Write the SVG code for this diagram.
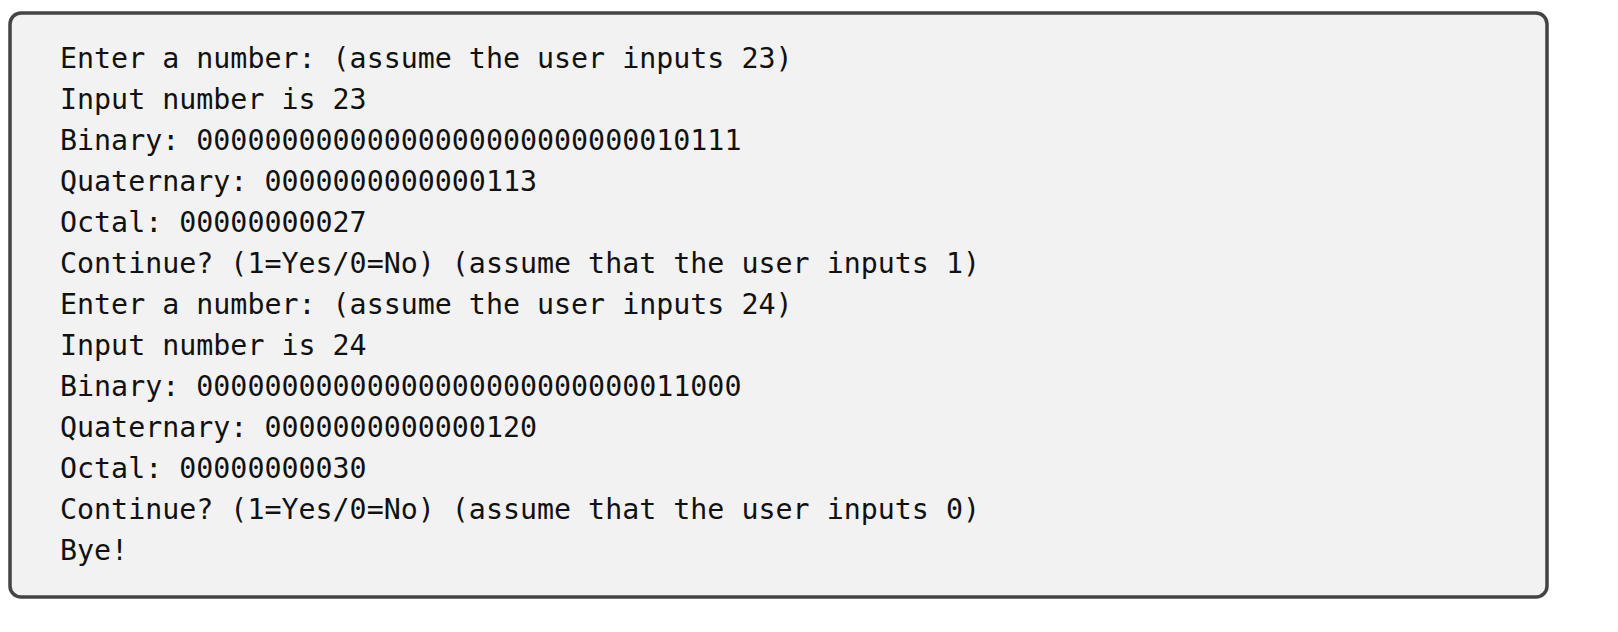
<svg xmlns="http://www.w3.org/2000/svg" width="1618" height="632" viewBox="0 0 1618 632">
<style>
.t{font-family:"DejaVu Sans Mono","Liberation Mono",monospace;font-size:28.3px;fill:#111;}
</style>
<rect width="1618" height="632" fill="#ffffff"/>
<g id="console">
<rect x="10" y="13" width="1537" height="584" rx="11" ry="11" fill="#f2f2f2" stroke="#444" stroke-width="3.5"/>
<text class="t" x="60" y="68">Enter a number: (assume the user inputs 23)</text>
<text class="t" x="60" y="109">Input number is 23</text>
<text class="t" x="60" y="150">Binary: 00000000000000000000000000010111</text>
<text class="t" x="60" y="191">Quaternary: 0000000000000113</text>
<text class="t" x="60" y="232">Octal: 00000000027</text>
<text class="t" x="60" y="273">Continue? (1=Yes/0=No) (assume that the user inputs 1)</text>
<text class="t" x="60" y="314">Enter a number: (assume the user inputs 24)</text>
<text class="t" x="60" y="355">Input number is 24</text>
<text class="t" x="60" y="396">Binary: 00000000000000000000000000011000</text>
<text class="t" x="60" y="437">Quaternary: 0000000000000120</text>
<text class="t" x="60" y="478">Octal: 00000000030</text>
<text class="t" x="60" y="519">Continue? (1=Yes/0=No) (assume that the user inputs 0)</text>
<text class="t" x="60" y="560">Bye!</text>
</g>
</svg>
